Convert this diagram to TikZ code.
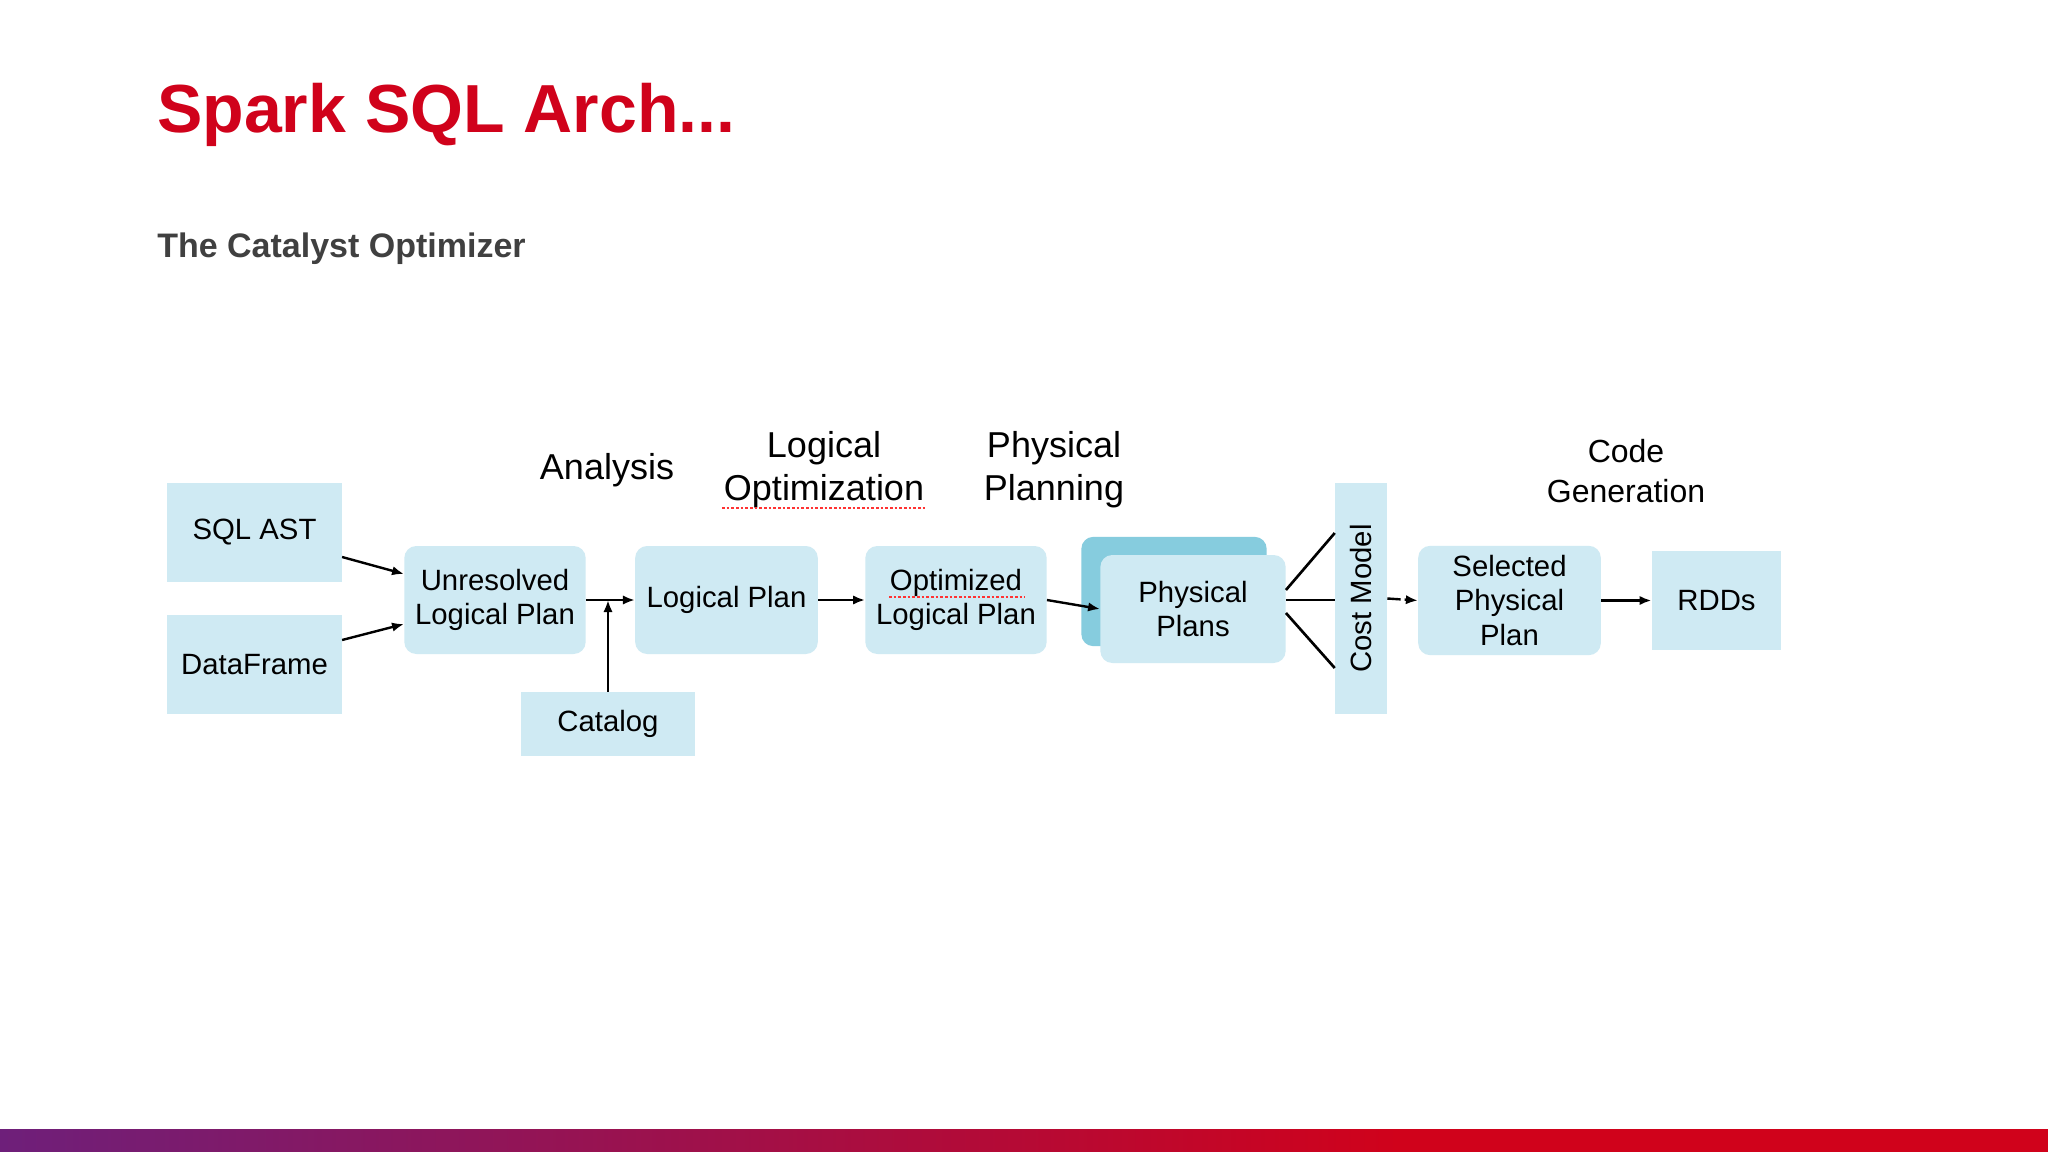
\documentclass[tikz,border=0pt]{standalone}
\usepackage{fontspec}
\setmainfont{Liberation Sans}
\usetikzlibrary{arrows.meta}
\definecolor{boxc}{HTML}{CFEAF3}
\definecolor{backc}{HTML}{86CCDE}
\definecolor{titlered}{HTML}{D0021B}
\definecolor{barpurple}{HTML}{6E1F7A}
\tikzset{
 sq/.style={fill=boxc,inner sep=0pt,font=\fontsize{22}{26}\selectfont,align=center},
 rb/.style={sq,rounded corners=9pt},
 lab/.style={font=\fontsize{27}{32}\selectfont,align=center},
 arr/.style={-{Latex[length=9pt,width=7pt]},line width=1.8pt},
 ln/.style={line width=2pt},
 spell/.style={red!80,line width=1pt,dash pattern=on 2pt off 1.5pt}
}
\begin{document}
\begin{tikzpicture}[x=0.75pt,y=-0.75pt]
\useasboundingbox (0,0) rectangle (2048,1152);
\fill[white] (0,0) rectangle (2048,1152);
\shade[left color=barpurple,right color=titlered] (0,1129) rectangle (1400,1152);
\fill[titlered] (1399,1129) rectangle (2048,1152);
\node[anchor=base west,text=titlered,font=\fontsize{51}{60}\selectfont\bfseries,inner sep=0] (title) at (157,133) {Spark SQL Arch...};
\node[anchor=west,text=black!75,font=\fontsize{25.5}{30}\selectfont\bfseries,inner sep=0] (sub) at (157,249) {The Catalyst Optimizer};
% boxes
\node[sq,minimum width=131,minimum height=74] (sql) at (254.5,532.5) {SQL AST};
\node[sq,minimum width=131,minimum height=74] (df) at (254.5,664.5) {DataFrame};
\node[rb,minimum width=136,minimum height=81] (unres) at (495,600) {Unresolved\\Logical Plan};
\node[rb,minimum width=137,minimum height=81] (lp) at (726.5,600) {Logical Plan};
\node[rb,minimum width=136,minimum height=81] (olp) at (956,600) {Optimized\\Logical Plan};
\node[rb,fill=backc,minimum width=139,minimum height=82] (ppback) at (1174,591.5) {};
\node[rb,minimum width=139,minimum height=81] (pp) at (1193,609) {Physical\\Plans};
\node[sq,minimum width=39,minimum height=173] (cost) at (1361,598.5) {};
\node[font=\fontsize{22}{26}\selectfont,rotate=90,inner sep=0] (costt) at (1361,598.5) {Cost Model};
\node[rb,minimum width=137,minimum height=82] (sel) at (1509.5,600.5) {Selected\\Physical\\Plan};
\node[sq,minimum width=97,minimum height=74] (rdd) at (1716.5,600.5) {RDDs};
\node[sq,minimum width=130,minimum height=48] (cat) at (608,724) {Catalog};
% labels
\node[lab] (la) at (607,470) {Analysis};
\node[lab] (lo) at (824,470) {Logical\\Optimization};
\node[lab] (lpp) at (1054,470) {Physical\\Planning};
\node[lab,font=\fontsize{24}{30}\selectfont] (lc) at (1626,471) {Code\\Generation};
\draw[spell] (722,508) -- (926,508);
\draw[spell] (889,597) -- (1025,597);
% arrows
\coordinate (j) at (608,600);
\draw[arr] (sql.east|-0,557) -- (unres.west|-0,574);
\draw[arr] (df.east|-0,640) -- (unres.west|-0,624);
\draw[arr] (unres.east) -- (lp.west);
\draw[arr] (cat.north) -- (j);
\draw[arr] (lp.east) -- (olp.west);
\draw[arr] (olp.east) -- (pp.west);
\draw[ln] (pp.east|-0,590) -- (cost.west|-0,533);
\draw[ln] (pp.east|-0,600) -- (cost.west|-0,600);
\draw[ln] (pp.east|-0,613) -- (cost.west|-0,668);
\draw[arr,dash pattern=on 10pt off 3pt] (cost.east) -- (sel.west);
\draw[arr] (sel.east) -- (rdd.west);
\end{tikzpicture}
\end{document}
